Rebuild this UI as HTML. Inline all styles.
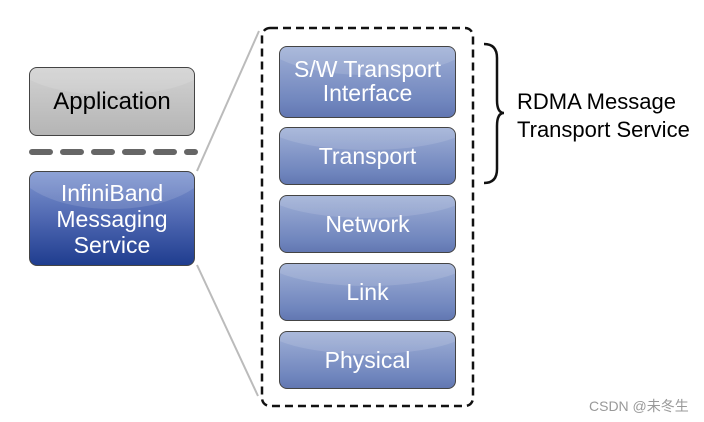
<!DOCTYPE html>
<html><head><style>
body{margin:0;width:704px;height:422px;background:#fff;position:relative;overflow:hidden;font-family:"Liberation Sans Narrow","Liberation Sans",sans-serif}
.b{position:absolute;border:1.5px solid #444;border-radius:8px;box-sizing:border-box;display:flex;align-items:center;justify-content:center;text-align:center;color:#fff;font-size:23px;line-height:24px;overflow:hidden}
.l{left:279px;width:177px;background:linear-gradient(#9fb0d6,#8497c8 45%,#6f85bd 80%,#6277b2);}
.l:before,.ib:before,.ap:before{content:"";position:absolute;left:-10%;width:120%;top:-60%;height:100%;border-radius:50%;background:rgba(255,255,255,.12)}
.b span{position:relative}
</style></head><body>
<svg width="704" height="422" style="position:absolute;left:0;top:0">
<line x1="197" y1="171" x2="259" y2="31" stroke="#bbb" stroke-width="2"/>
<line x1="197" y1="265" x2="258" y2="396" stroke="#bbb" stroke-width="2"/>
<line x1="32" y1="152" x2="195" y2="152" stroke="#666" stroke-width="6" stroke-dasharray="18,13" stroke-linecap="round"/>
<rect x="262" y="28" width="211" height="378" rx="8" fill="none" stroke="#111" stroke-width="2.5" stroke-dasharray="8,5"/>
<path d="M484 44 Q497 44 497 58 L497 100 Q497 113 504 113 Q497 113 497 126 L497 169 Q497 183 484 183" fill="none" stroke="#111" stroke-width="2.5"/>
</svg>
<div class="b ap" style="left:29px;top:67px;width:166px;height:69px;color:#000;background:linear-gradient(#d2d2d2,#b5b5b5);font-size:24px"><span>Application</span></div>
<div class="b ib" style="left:29px;top:171px;width:166px;height:95px;background:linear-gradient(#7f96d0,#4a63ae 55%,#1f3d8f);font-size:23px;line-height:26px"><span>InfiniBand<br>Messaging<br>Service</span></div>
<div class="b l" style="top:46px;height:72px;line-height:24px;align-items:flex-start;padding-top:10px"><span>S/W Transport<br>Interface</span></div>
<div class="b l" style="top:127px;height:58px"><span>Transport</span></div>
<div class="b l" style="top:195px;height:58px"><span>Network</span></div>
<div class="b l" style="top:263px;height:58px"><span>Link</span></div>
<div class="b l" style="top:331px;height:58px"><span>Physical</span></div>
<div style="position:absolute;left:517px;top:88px;font-size:22px;line-height:28px;color:#000">RDMA Message<br>Transport Service</div>
<div style="position:absolute;left:589px;top:396px;font-size:14px;color:#999;font-family:'Liberation Sans','Noto Sans CJK SC',sans-serif">CSDN @未冬生</div>
</body></html>
